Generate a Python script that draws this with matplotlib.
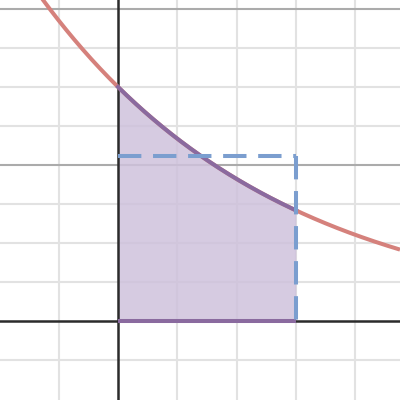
import numpy as np
import matplotlib
matplotlib.use("Agg")
import matplotlib.pyplot as plt

# -------------------------------
# values
# -------------------------------
f_start = 6.0          # f(0)
f_decay = 0.25         # f(x) = f_start * exp(-f_decay * x)
interval = [0.0, 3.0]  # shaded interval a..b
x_view = [-1.99, 4.755]
y_view = [-2.03, 8.23]
x_minor = [-1, 1, 2, 3, 4]
y_minor = [-1, 1, 2, 3, 5, 6, 7]
y_major = [4, 8]

RED = "#d5817c"
PURPLE = "#8a6a9f"
FILL = "#cfc2dc"
BLUE = "#7b9ecf"
AXIS = "#2b2b2b"


def f(x):
    return f_start * np.exp(-f_decay * x)


fig = plt.figure(figsize=(4, 4), dpi=100)
ax = fig.add_axes([0, 0, 1, 1])
ax.set_xlim(x_view)
ax.set_ylim(y_view)
ax.set_axis_off()

# grid
for gx in x_minor:
    ax.axvline(gx, color="#e2e2e2", lw=1.5, zorder=0)
for gy in y_minor:
    ax.axhline(gy, color="#e2e2e2", lw=1.5, zorder=0)
for gy in y_major:
    ax.axhline(gy, color="#ababab", lw=1.5, zorder=0)

# shaded region under the curve
a, b = interval
xs = np.linspace(a, b, 300)
ax.fill_between(xs, 0, f(xs), color=FILL, alpha=0.85, lw=0, zorder=1)

# axes
ax.axvline(0, color=AXIS, lw=1.8, zorder=2)
ax.axhline(0, color=AXIS, lw=1.8, zorder=2)

# full curve
xx = np.linspace(x_view[0], x_view[1], 600)
ax.plot(xx, f(xx), color=RED, lw=2.9, solid_capstyle="butt", zorder=3)

# region boundary
ax.plot(xs, f(xs), color=PURPLE, lw=2.9, zorder=4)
ax.plot([a, b], [0, 0], color=PURPLE, lw=2.9, solid_capstyle="butt", zorder=4)

# mean value rectangle
mean_val = np.trapezoid(f(xs), xs) / (b - a)
ax.plot([a, b], [mean_val, mean_val], color=BLUE, lw=2.9,
        dashes=(5.8, 2.9), dash_capstyle="butt", zorder=5)
ax.plot([b, b], [mean_val, 0], color=BLUE, lw=2.9,
        dashes=(5.8, 2.9), dash_capstyle="butt", zorder=5)

fig.savefig("out.png", dpi=100)
